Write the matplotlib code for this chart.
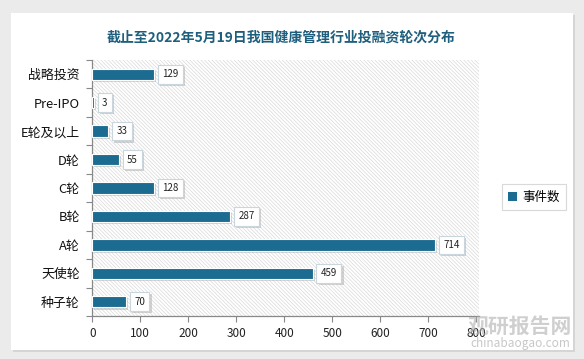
import matplotlib
matplotlib.use("Agg")
import matplotlib.pyplot as plt
import matplotlib.patheffects as pe
from matplotlib.patches import Rectangle

plt.rcParams['font.family'] = ['Noto Sans CJK SC', 'DejaVu Sans']
plt.rcParams['hatch.linewidth'] = 0.5

# data (top to bottom as in the chart)
categories = ["战略投资", "Pre-IPO", "E轮及以上", "D轮", "C轮", "B轮", "A轮", "天使轮", "种子轮"]
counts = [129, 3, 33, 55, 128, 287, 714, 459, 70]
series_name = "事件数"
title = "截止至2022年5月19日我国健康管理行业投融资轮次分布"
xticks = [0, 100, 200, 300, 400, 500, 600, 700, 800]

BAR_COLOR = "#1b6c90"
AXIS_GRAY = "#888888"

fig = plt.figure(figsize=(5.84, 3.59), dpi=100, facecolor="#ebebeb")

# white card with soft shadow
card = Rectangle((11 / 584, 9 / 359), 562 / 584, 337 / 359, transform=fig.transFigure,
                 facecolor="white", edgecolor="none", zorder=-5,
                 path_effects=[pe.SimplePatchShadow(offset=(1.5, -1.5), shadow_rgbFace="#d0d0d0", alpha=0.8),
                               pe.Normal()])
fig.patches.append(card)

ax = fig.add_axes([92.3 / 584, 43 / 359, 386.7 / 584, 256 / 359])
ax.set_facecolor("none")

# hatched plot background
bg = Rectangle((0, 0), 1, 1, transform=ax.transAxes, facecolor="white",
               edgecolor="#d9d9d9", hatch="\\" * 9, lw=0, zorder=0)
ax.add_patch(bg)

ypos = list(range(len(categories)))[::-1]
bars = ax.barh(ypos, counts, height=0.4, color=BAR_COLOR, edgecolor="white", linewidth=0.8, zorder=3)
for b in bars:
    b.set_path_effects([pe.SimplePatchShadow(offset=(1.5, -1.5), shadow_rgbFace="#999999", alpha=0.4),
                        pe.Normal()])

# value labels in white boxes with shadow
for y, v in zip(ypos, counts):
    t = ax.annotate(str(v), xy=(v, y), xytext=(6, 0), textcoords="offset points",
                    ha="left", va="center", fontsize=7, color="#222222", zorder=5,
                    bbox=dict(boxstyle="square,pad=0.45", fc="white", ec="#c9d6de", lw=0.8))
    t.get_bbox_patch().set_path_effects(
        [pe.SimplePatchShadow(offset=(1.5, -1.5), shadow_rgbFace="#aaaaaa", alpha=0.5), pe.Normal()])

ax.set_xlim(0, 806)
ax.set_ylim(-0.5, len(categories) - 0.5)
ax.set_xticks(xticks)
ax.set_xticklabels([str(t) for t in xticks], fontsize=8.5, color="#222222")
ax.set_yticks(ypos)
ax.set_yticklabels(categories, fontsize=9.3, color="#111111")
ax.tick_params(axis="y", length=0, pad=9)
ax.set_yticks([i - 0.5 for i in range(len(categories) + 1)], minor=True)
ax.tick_params(axis="y", which="minor", length=4, color=AXIS_GRAY, width=0.8)
ax.tick_params(axis="x", length=4, color=AXIS_GRAY, width=0.8, pad=4)

for s in ["top", "right"]:
    ax.spines[s].set_visible(False)
for s in ["left", "bottom"]:
    ax.spines[s].set_color(AXIS_GRAY)
    ax.spines[s].set_linewidth(0.9)

fig.text(281 / 584, 1 - 38 / 359, title, ha="center", va="center",
         fontsize=10, fontweight="bold", color="#1f5f7e")

leg = ax.legend([bars[0]], [series_name], loc="center", bbox_to_anchor=(534 / 584, 162 / 359),
                bbox_transform=fig.transFigure, fontsize=9, frameon=True, fancybox=False,
                handlelength=0.7, handleheight=0.7, handletextpad=0.4, borderpad=0.5)
leg.get_frame().set_edgecolor("#d0d0d0")
leg.get_frame().set_linewidth(0.8)
leg.legend_handles[0].set_path_effects([])
leg.legend_handles[0].set_edgecolor("none")

# watermark
fig.text(520 / 584, 1 - 326 / 359, "观研报告网", ha="center", va="center", fontsize=15,
         fontweight="bold", color="#b0b0b0", alpha=0.6)
fig.text(520 / 584, 1 - 343 / 359, "chinabaogao.com", ha="center", va="center", fontsize=8.5,
         color="#b0b0b0", alpha=0.7)

fig.savefig("out.png", dpi=100, facecolor=fig.get_facecolor())
